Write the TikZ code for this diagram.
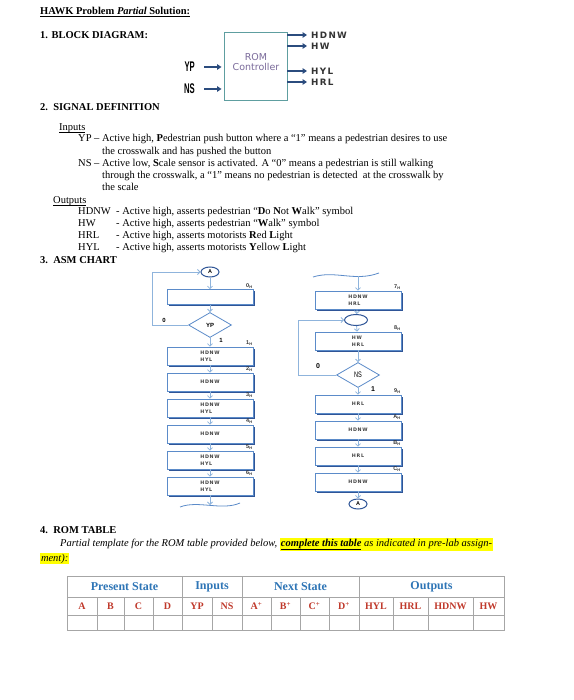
\documentclass[tikz,border=0pt]{standalone}
\usepackage{fontspec}
\setmainfont{Liberation Serif}
\setsansfont{Liberation Sans}
\newfontfamily\widesans{DejaVu Sans}
\usetikzlibrary{shapes.geometric,shadows,arrows.meta}
\definecolor{romteal}{HTML}{5E9EA0}
\definecolor{romtext}{HTML}{7B6B9B}
\definecolor{navy}{HTML}{2B4C7E}
\definecolor{stblue}{HTML}{5B8BC9}
\definecolor{stdark}{HTML}{2F5597}
\definecolor{flow}{HTML}{8FB4DC}
\definecolor{hdblue}{HTML}{2E75B6}
\definecolor{hdred}{HTML}{C0392B}
\definecolor{tblgray}{HTML}{A6A6A6}
\definecolor{hl}{HTML}{FFFF00}
\newcommand{\ulsmash}[1]{\underline{\smash{#1}}}
\begin{document}
\begin{tikzpicture}[x=1pt,y=-1pt,
  txt/.style={anchor=base west,inner sep=0pt,font=\fontsize{10.5}{12}\selectfont},
  itxt/.style={txt,font=\fontsize{10.5}{12}\selectfont\itshape},
  sec/.style={txt,font=\fontsize{10.5}{12}\selectfont\bfseries},
  romarrow/.style={draw=navy,line width=1.3pt,-{Triangle[length=4.5pt,width=5.5pt]}},
  sig/.style={anchor=west,inner ysep=0pt,inner xsep=4pt,font=\widesans\bfseries\fontsize{8.8}{9}\selectfont\addfontfeature{LetterSpace=15},text=black!80},
  inlab/.style={anchor=east,inner ysep=0pt,inner xsep=9pt,font=\sffamily\bfseries\fontsize{14}{14}\selectfont},
  stbox/.style={draw=stblue,line width=0.7pt,fill=white,minimum width=86pt,minimum height=18pt,inner sep=0pt,
     drop shadow={shadow xshift=1.8pt,shadow yshift=-1.8pt,fill=stdark,opacity=1},
     font=\widesans\bfseries\fontsize{4.8}{6.5}\selectfont\addfontfeature{LetterSpace=15},text=black!75,align=left},
  stlab/.style={anchor=south east,inner sep=0.6pt,font=\sffamily\bfseries\fontsize{5.5}{5.5}\selectfont,text=black!80},
  dec/.style={diamond,draw=stblue,line width=0.8pt,fill=white,aspect=1.7,minimum width=43pt,minimum height=25pt,inner sep=0pt},
  conn/.style={ellipse,draw=stdark,line width=1pt,fill=white,minimum width=18pt,minimum height=10pt,inner sep=0pt,font=\sffamily\bfseries\fontsize{5.5}{5.5}\selectfont},
  flowarr/.style={draw=flow,line width=0.8pt,-{Straight Barb[length=2.5pt,width=5pt]}},
  wave/.style={draw=stblue,line width=0.8pt},
  bitlab/.style={inner sep=0pt,font=\sffamily\bfseries\fontsize{6}{6}\selectfont},
  tbl/.style={draw=tblgray,line width=0.6pt},
  th/.style={inner sep=0pt,font=\bfseries\fontsize{12}{12}\selectfont,text=hdblue},
  tc/.style={inner sep=0pt,font=\bfseries\fontsize{10}{10}\selectfont,text=hdred},
]
\fill[white] (0,0) rectangle (573,700);
\useasboundingbox (0,0) rectangle (573,700);

% ---------- headings and block diagram ----------
\node[txt] (t0) at (40,15) {\underline{\textbf{HAWK Problem \textit{Partial} Solution:}}};
\node[sec] (t1) at (40,39) {1. BLOCK DIAGRAM:};

\node[draw=romteal,line width=0.9pt,minimum width=63pt,minimum height=68pt,inner sep=0pt] (rom) at (255.5,66) {};
\node[inner sep=0pt,font=\widesans\fontsize{9.5}{10.5}\selectfont,text=romtext,align=center] (romtxt) at (256,62) {ROM\\Controller};

\node[sig] (ohdnw) at (307,35) {HDNW};
\node[sig] (ohw) at (307,46) {HW};
\node[sig] (ohyl) at (307,71) {HYL};
\node[sig] (ohrl) at (307,82) {HRL};
\foreach \n in {ohdnw,ohw,ohyl,ohrl} \draw[romarrow] (rom.east |- \n) -- (\n);

\node[inlab] (iyp) at (204,67) {\scalebox{0.55}[1]{YP}};
\node[inlab] (ins) at (204,89) {\scalebox{0.55}[1]{NS}};
\draw[romarrow] (iyp) -- ([xshift=-2pt]iyp -| rom.west);
\draw[romarrow] (ins) -- ([xshift=-2pt]ins -| rom.west);

% ---------- signal definition ----------
\node[sec] (t2) at (40,111) {2.\ \ SIGNAL DEFINITION};
\node[txt] (t3) at (59,131) {\ulsmash{Inputs}};
\node[txt] (t4) at (78,142) {YP – Active high, \textbf{P}edestrian push button where a “1” means a pedestrian desires to use};
\node[txt] (t5) at (102,155) {the crosswalk and has pushed the button};
\node[txt] (t6) at (78,167) {NS – Active low, \textbf{S}cale sensor is activated. A “0” means a pedestrian is still walking};
\node[txt] (t7) at (102,179) {through the crosswalk, a “1” means no pedestrian is detected \ at the crosswalk by};
\node[txt] (t8) at (102,191) {the scale};
\node[txt] (t9) at (53,204) {\ulsmash{Outputs}};
\node[txt] (h1) at (78,215) {HDNW};
\node[txt] (d1) at (116,215) {- Active high, asserts pedestrian “\textbf{D}o \textbf{N}ot \textbf{W}alk” symbol};
\node[txt] (h2) at (78,227) {HW};
\node[txt] (d2) at (116,227) {- Active high, asserts pedestrian “\textbf{W}alk” symbol};
\node[txt] (h3) at (78,239) {HRL};
\node[txt] (d3) at (116,239) {- Active high, asserts motorists \textbf{R}ed \textbf{L}ight};
\node[txt] (h4) at (78,251) {HYL};
\node[txt] (d4) at (116,251) {- Active high, asserts motorists \textbf{Y}ellow \textbf{L}ight};
\node[sec] (t10) at (40,263) {3.\ \ ASM CHART};

% ---------- ASM chart: left column ----------
\node[conn] (ca) at (210,272) {A};
\node[stbox,minimum height=15pt] (s0) at (210,297) {};
\node[dec] (dyp) at (210,325) {\sffamily\bfseries\fontsize{6}{6}\selectfont YP};
\node[stbox] (s1) at (210,356) {HDNW\\HYL};
\node[stbox] (s2) at (210,382) {HDNW};
\node[stbox] (s3) at (210,408) {HDNW\\HYL};
\node[stbox] (s4) at (210,434) {HDNW};
\node[stbox] (s5) at (210,460) {HDNW\\HYL};
\node[stbox] (s6) at (210,486) {HDNW\\HYL};
\coordinate (wl) at (210,505);
\draw[wave] (180,507) .. controls (198,500) and (222,511) .. (240,503);

\node[stlab] (l0) at (s0.north east) {0\textsubscript{H}};
\node[stlab] (l1) at (s1.north east) {1\textsubscript{H}};
\node[stlab] (l2) at (s2.north east) {2\textsubscript{H}};
\node[stlab] (l3) at (s3.north east) {3\textsubscript{H}};
\node[stlab] (l4) at (s4.north east) {4\textsubscript{H}};
\node[stlab] (l5) at (s5.north east) {5\textsubscript{H}};
\node[stlab] (l6) at (s6.north east) {6\textsubscript{H}};

\draw[flowarr] (ca) -- (s0);
\draw[flowarr] (s0) -- (dyp);
\draw[flowarr] (dyp) -- (s1);
\draw[flowarr] (s1) -- (s2);
\draw[flowarr] (s2) -- (s3);
\draw[flowarr] (s3) -- (s4);
\draw[flowarr] (s4) -- (s5);
\draw[flowarr] (s5) -- (s6);
\draw[flowarr] (s6) -- (wl);
\coordinate (lpl) at (152,325);
\draw[flowarr] (dyp.west) -- (lpl) |- (ca.west);
\node[bitlab] (b0l) at (164,320) {0};
\node[bitlab] (b1l) at (221,340) {1};

% ---------- ASM chart: right column ----------
\draw[wave] (313,277) .. controls (335,270) and (355,282) .. (379,273);
\coordinate (wr) at (358,276);
\node[stbox] (s7) at (358,300) {HDNW\\HRL};
\node[conn,minimum width=23pt,minimum height=11pt] (ce) at (356,320) {};
\node[stbox] (s8) at (358,341) {HW\\HRL};
\node[dec] (dns) at (358,375) {\sffamily\fontsize{8}{8}\selectfont\scalebox{0.7}[1]{NS}};
\node[stbox] (s9) at (358,404) {HRL};
\node[stbox] (sa) at (358,430) {HDNW};
\node[stbox] (sb) at (358,456) {HRL};
\node[stbox] (sc) at (358,482) {HDNW};
\node[conn] (ca2) at (358,504) {A};

\node[stlab] (l7) at (s7.north east) {7\textsubscript{H}};
\node[stlab] (l8) at (s8.north east) {8\textsubscript{H}};
\node[stlab] (l9) at (s9.north east) {9\textsubscript{H}};
\node[stlab] (la) at (sa.north east) {A\textsubscript{H}};
\node[stlab] (lb) at (sb.north east) {B\textsubscript{H}};
\node[stlab] (lc) at (sc.north east) {C\textsubscript{H}};

\draw[flowarr] (wr) -- (s7);
\draw[flowarr] (s7) -- (ce);
\draw[flowarr] (ce) -- (s8);
\draw[flowarr] (s8) -- (dns);
\draw[flowarr] (dns) -- (s9);
\draw[flowarr] (s9) -- (sa);
\draw[flowarr] (sa) -- (sb);
\draw[flowarr] (sb) -- (sc);
\draw[flowarr] (sc) -- (ca2);
\coordinate (lpr) at (298,375);
\draw[flowarr] (dns.west) -- (lpr) |- (ce.west);
\node[bitlab,font=\sffamily\bfseries\fontsize{7}{7}\selectfont] (b0r) at (318,366) {0};
\node[bitlab,font=\sffamily\bfseries\fontsize{7}{7}\selectfont] (b1r) at (373,389) {1};

% ---------- ROM table ----------
\node[sec] (t11) at (40,533) {4.\ \ ROM TABLE};
\node[itxt] (p1) at (60,546) {Partial template for the ROM table provided below,};
\node[itxt,fill=hl,inner sep=0.8pt] (p2) at ([xshift=2.6pt]p1.base east) {\textbf{\underline{complete this table}} as indicated in pre-lab assign-};
\node[itxt,fill=hl,inner sep=0.8pt] (p3) at (40,561) {ment):};

\draw[tbl] (67,576) rectangle (504,630);
\draw[tbl] (67,597) -- (504,597);
\draw[tbl] (67,615) -- (504,615);
\foreach \x in {182,242,359} \draw[tbl] (\x,576) -- (\x,630);
\foreach \x in {97,124,153,212,271,300,329,393,428,473} \draw[tbl] (\x,597) -- (\x,630);

\node[th] (hps) at (124.5,587) {Present State};
\node[th] (hin) at (212,587) {Inputs};
\node[th] (hns) at (300.5,587) {Next State};
\node[th] (hout) at (431.5,587) {Outputs};

\foreach \t/\a/\b [count=\i] in {A/67/97,B/97/124,C/124/153,D/153/182,YP/182/212,NS/212/242,
  {A\textsuperscript{+}}/242/271,{B\textsuperscript{+}}/271/300,{C\textsuperscript{+}}/300/329,{D\textsuperscript{+}}/329/359,
  HYL/359/393,HRL/393/428,HDNW/428/473,HW/473/504}
  \node[tc] (c\i) at ({(\a+\b)/2},606) {\t};
\end{tikzpicture}
\end{document}
